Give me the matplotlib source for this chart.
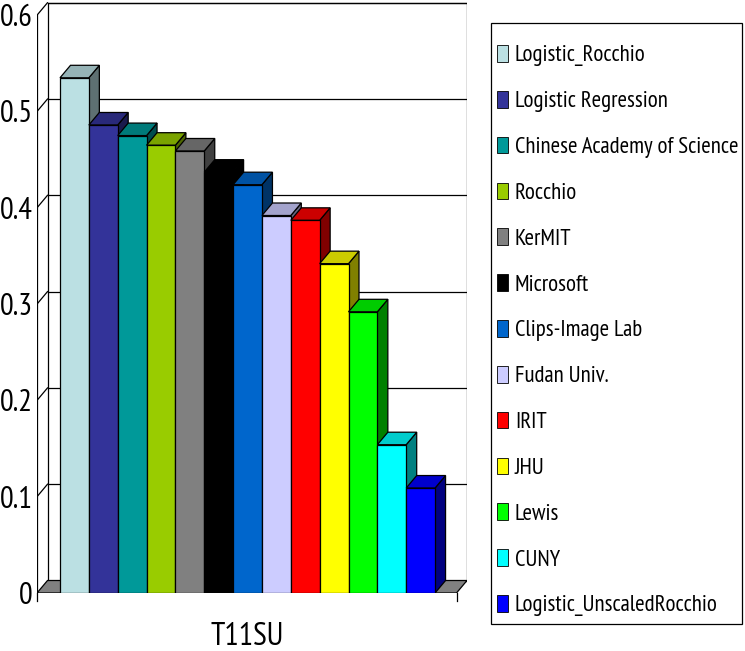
import matplotlib
matplotlib.use("Agg")
import matplotlib.pyplot as plt
from matplotlib.patches import Polygon, Patch, Rectangle
import numpy as np

names = ["Logistic_Rocchio", "Logistic Regression", "Chinese Academy of Science",
         "Rocchio", "KerMIT", "Microsoft", "Clips-Image Lab", "Fudan Univ.",
         "IRIT", "JHU", "Lewis", "CUNY", "Logistic_UnscaledRocchio"]
values = [0.535, 0.486, 0.475, 0.465, 0.459, 0.437, 0.424, 0.392, 0.387,
          0.342, 0.292, 0.154, 0.109]
colors = ["#BBE0E3", "#333399", "#009999", "#99CC00", "#808080", "#000000",
          "#0066CC", "#CCCCFF", "#FF0000", "#FFFF00", "#00FF00", "#00FFFF",
          "#0000FF"]
yticks = [0, 0.1, 0.2, 0.3, 0.4, 0.5, 0.6]
ytick_labels = ["0", "0.1", "0.2", "0.3", "0.4", "0.5", "0.6"]
group = "T11SU"

plt.rcParams["font.family"] = ["PT Sans Narrow", "Liberation Sans", "DejaVu Sans"]


def shade(c, k):
    r, g, b = matplotlib.colors.to_rgb(c)
    return (r * k, g * k, b * k)


W, H = 745, 651
fig = plt.figure(figsize=(W / 100, H / 100), dpi=100)
# axes box in pixels: front axis at x=37, back wall right edge at x=467
ax = fig.add_axes([37 / W, 1 - 593 / H, 430 / W, 591 / H])

px_x = 28.85   # pixels per bar
px_y = 963.0   # pixels per 1.0
x0 = -0.5 - 23 / px_x
x1 = x0 + 430 / px_x
ymax = 0.6
ax.set_xlim(x0, x1)
ax.set_ylim(0, 591 / px_y)
dx = 10.5 / px_x
dy = 12.5 / px_y
lw = 0.9

for s in ax.spines.values():
    s.set_visible(False)

# back wall
ax.add_patch(Polygon([(x0 + dx, dy), (x1, dy), (x1, ymax + dy), (x0 + dx, ymax + dy)],
                     closed=True, facecolor="white", edgecolor="black", lw=lw, zorder=1))
# gridlines on back and side wall
for v in yticks[1:]:
    ax.plot([x0 + dx, x1], [v + dy, v + dy], color="black", lw=lw, zorder=1.5)
    ax.plot([x0, x0 + dx], [v, v + dy], color="black", lw=lw, zorder=1.5)
ax.plot([x0, x0], [0, ymax], color="black", lw=lw, zorder=1.5)

# floor
ax.add_patch(Polygon([(x0, 0), (x1 - dx, 0), (x1, dy), (x0 + dx, dy)], closed=True,
                     facecolor="#808080", edgecolor="black", lw=lw, zorder=2))
for xx in (x0, x1 - dx):
    ax.plot([xx, xx], [0, -8 / px_y], color="black", lw=lw, zorder=2, clip_on=False)

# bars: side, top, then front face
xs = np.arange(len(values))
for i, (v, c) in enumerate(zip(values, colors)):
    l, r = xs[i] - 0.5, xs[i] + 0.5
    z = 3 + i
    ax.add_patch(Polygon([(r, 0), (r + dx, dy), (r + dx, v + dy), (r, v)], closed=True,
                         facecolor=shade(c, 0.5), edgecolor="black", lw=lw, zorder=z))
    ax.add_patch(Polygon([(l, v), (r, v), (r + dx, v + dy), (l + dx, v + dy)], closed=True,
                         facecolor=shade(c, 0.8), edgecolor="black", lw=lw, zorder=z))
    ax.bar(xs[i], v, width=1.0, color=c, edgecolor="black", lw=lw, zorder=z + 0.5)

ax.set_yticks(yticks)
ax.set_yticklabels(ytick_labels, fontsize=22)
ax.set_xticks([xs.mean()])
ax.set_xticklabels([group], fontsize=23)
ax.tick_params(axis="y", length=0, pad=3)
ax.tick_params(axis="x", length=0, pad=21)

# legend box
fig.patches.append(Rectangle((491 / W, 1 - 624 / H), 251 / W, 601 / H, transform=fig.transFigure,
                             facecolor="white", edgecolor="black", lw=0.9, zorder=0))
handles = [Patch(facecolor=c, edgecolor="black", lw=0.6) for c in colors]
leg = fig.legend(handles, names, loc="upper left", bbox_to_anchor=(497 / W, 1 - 45 / H),
                 fontsize=16.5, frameon=False, borderpad=0, handlelength=0.48, handleheight=0.75,
                 handletextpad=0.3, labelspacing=1.067, borderaxespad=0)

fig.savefig("out.png", dpi=100)
